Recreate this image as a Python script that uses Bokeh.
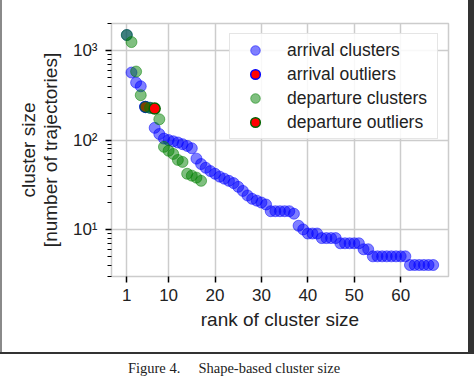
import math
from bokeh.plotting import figure
from bokeh.layouts import column
from bokeh.models import FixedTicker, Range1d, Label
from bokeh.embed import file_html
from bokeh.resources import INLINE

# ---- data ----
arr_rank = [1, 2, 3, 4] + list(range(6, 68))
arr_size = [1500, 570, 440, 400,
            230, 137, 117, 104, 100, 97, 94, 90, 86, 81,
            62, 54, 49, 45, 42, 39, 37, 35, 33, 30, 27, 24, 22, 21, 20, 19,
            16, 16, 16, 16, 16, 15, 11, 10, 9, 9, 9,
            8, 8, 8, 8, 7, 7, 7, 7, 7, 6, 6,
            5, 5, 5, 5, 5, 5, 5, 5, 4, 4, 4, 4, 4, 4]
arr_out_rank = [5]
arr_out_size = [235]
dep_rank = [1, 2, 3, 4, 5, 6, 8, 9, 10, 11, 12, 13, 14, 15, 16, 17]
dep_size = [1500, 1250, 585, 318, 235, 230, 171, 84, 76, 70, 60, 57, 42, 40, 38, 35]
dep_out_rank = [7]
dep_out_size = [225]

x_ticks = [1, 10, 20, 30, 40, 50, 60]
y_ticks = [10, 100, 1000]
y_tick_labels = {10: "10\u00b9", 100: "10\u00b2", 1000: "10\u00b3"}
caption = "Figure 4.\u00a0\u00a0\u00a0\u00a0 Shape-based cluster size"

FONT = "Liberation Sans"

all_r = arr_rank + arr_out_rank + dep_rank + dep_out_rank
all_s = arr_size + arr_out_size + dep_size + dep_out_size
xmin, xmax = min(all_r), max(all_r)
xpad = 0.05 * (xmax - xmin)
lmin, lmax = math.log10(min(all_s)), math.log10(max(all_s))
lpad = 0.05 * (lmax - lmin)

p = figure(width=474, height=354, y_axis_type="log",
           x_range=Range1d(xmin - xpad, xmax + xpad),
           y_range=Range1d(10 ** (lmin - lpad), 10 ** (lmax + lpad)),
           output_backend="svg", toolbar_location=None,
           min_border_left=111, min_border_right=26,
           min_border_top=23, min_border_bottom=78)

p.scatter(arr_rank, arr_size, size=11, fill_color="#0000ff", fill_alpha=0.5,
          line_color="#0000ff", line_alpha=0.5, line_width=1,
          legend_label="arrival clusters")
p.scatter(arr_out_rank, arr_out_size, size=11, fill_color="#ff0000",
          line_color="#0000ff", line_width=1.5,
          legend_label="arrival outliers")
p.scatter(dep_rank, dep_size, size=11, fill_color="#008000", fill_alpha=0.5,
          line_color="#008000", line_alpha=0.5, line_width=1,
          legend_label="departure clusters")
p.scatter(dep_out_rank, dep_out_size, size=11, fill_color="#ff0000",
          line_color="#006400", line_width=1.5,
          legend_label="departure outliers")

# frame / grid
p.outline_line_color = "#cccccc"
p.outline_line_width = 1.5
p.background_fill_color = "white"
p.border_fill_color = None
p.xgrid.grid_line_color = "#cccccc"
p.ygrid.grid_line_color = "#cccccc"
p.xgrid.grid_line_width = 1.5
p.ygrid.grid_line_width = 1.5

# x axis
p.xaxis.ticker = FixedTicker(ticks=x_ticks, minor_ticks=[])
p.xaxis.axis_label = "rank of cluster size"
# y axis
minor = [d * 10 ** e for e in range(0, 4) for d in range(2, 10)]
p.yaxis.ticker = FixedTicker(ticks=y_ticks, minor_ticks=minor)
p.yaxis.major_label_overrides = y_tick_labels
p.yaxis.axis_label = "cluster size\n[number of trajectories]"

for ax in (p.xaxis[0], p.yaxis[0]):
    ax.axis_line_color = None
    ax.major_tick_line_color = "black"
    ax.minor_tick_line_color = "black"
    ax.major_tick_line_width = 1.5
    ax.minor_tick_line_width = 1.2
    ax.major_tick_in = 0
    ax.major_tick_out = 6
    ax.minor_tick_in = 0
    ax.minor_tick_out = 4
    ax.major_label_text_font = FONT
    ax.major_label_text_font_size = "17px"
    ax.major_label_text_color = "#222222"
    ax.axis_label_text_font = FONT
    ax.axis_label_text_font_size = "19px"
    ax.axis_label_text_font_style = "normal"
    ax.axis_label_text_color = "#222222"

p.xaxis.major_label_standoff = 6
p.xaxis.axis_label_standoff = 5
p.yaxis.major_label_standoff = 8
p.yaxis.axis_label_standoff = 9
p.yaxis.axis_label_text_line_height = 1.05

# legend
lg = p.legend[0]
lg.location = "top_right"
lg.margin = 10
lg.padding = 4
lg.spacing = 0
lg.label_height = 24
lg.glyph_height = 24
lg.glyph_width = 42
lg.label_standoff = 11
lg.label_width = 146
lg.label_text_font = FONT
lg.label_text_font_size = "17.5px"
lg.label_text_line_height = 1.0
lg.label_text_color = "#222222"
lg.border_line_color = "#cccccc"
lg.border_line_width = 1.2
lg.background_fill_color = "white"
lg.background_fill_alpha = 0.85

# border of the scanned figure box (drawn by CSS on the plot element)
p.styles = {"background-color": "white",
            "box-shadow": "inset -6px 0 0 0 #333333, inset 0 -2px 0 0 #333333, inset 2px 0 0 0 #8a8a8a"}

# caption strip (its frame is aligned with the plot frame by the column layout)
c = figure(width=474, height=26, x_range=Range1d(0, 1), y_range=Range1d(0, 1),
           x_axis_location=None, y_axis_location=None,
           output_backend="svg", toolbar_location=None, min_border=0)
c.grid.visible = False
c.outline_line_color = None
c.add_layout(Label(x=122.5, y=13, x_units="screen", y_units="screen", text=caption,
                   text_font="Liberation Serif", text_font_size="14.5px",
                   text_align="center", text_baseline="middle",
                   text_color="#222222"))

layout = column(p, c, spacing=0)
open("out.html", "w").write(file_html(layout, INLINE))
